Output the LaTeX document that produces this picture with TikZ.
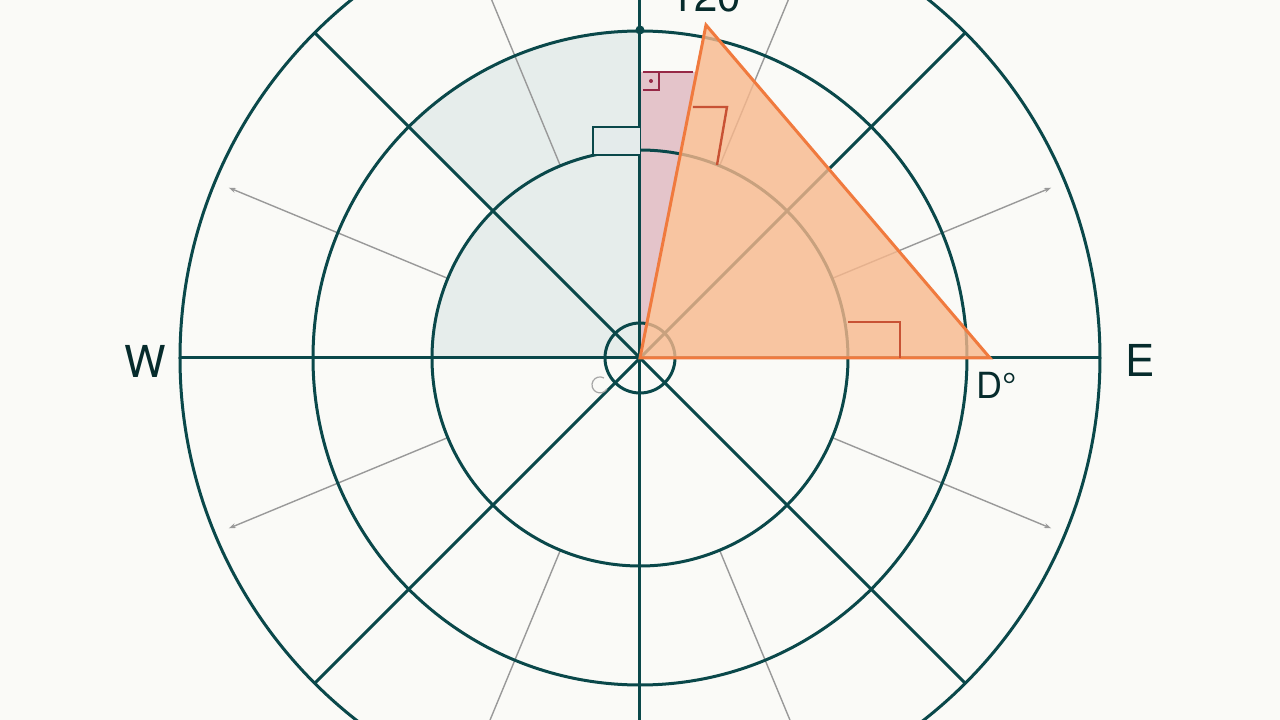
\documentclass[tikz,border=0pt]{standalone}
\usepackage{fontspec}
\setmainfont{TeX Gyre Heros}
\usetikzlibrary{arrows.meta}
\definecolor{azul}{RGB}{10,72,74}
\definecolor{fondo}{RGB}{250,250,247}
\definecolor{sombra}{RGB}{230,237,235}
\definecolor{rosa}{RGB}{228,196,202}
\definecolor{granate}{RGB}{150,40,70}
\definecolor{naranja}{RGB}{240,122,62}
\definecolor{salmon}{RGB}{248,184,140}
\definecolor{ladrillo}{RGB}{200,82,52}
\tikzset{
  rejilla/.style={azul,line width=3pt},
  radio/.style={gray!80,line width=1.4pt,-{Stealth[length=7pt,width=5pt]}},
  marca/.style={line width=2.4pt}
}
\begin{document}
\begin{tikzpicture}[x=1pt,y=1pt]
    \useasboundingbox (-640,-362) rectangle (640,358);
    \clip (-640,-362) rectangle (640,358);
    \fill[fondo] (-640,-362) rectangle (640,358);

    % Centro y triángulo
    \coordinate (O) at (0,0);
    \coordinate (A) at (66,333);
    \coordinate (B) at (350,0);

    % Sector sombreado
    \fill[sombra] (O) -- (0,327) arc[start angle=90,end angle=135,radius=327] -- cycle;
    \fill[sombra] (O) -- (0,208) arc[start angle=90,end angle=180,radius=208] -- cycle;
    \fill[rosa] (O) -- (0,286) -- (56.7,286) -- cycle;

    % Rayos grises
    \foreach \a in {22.5,67.5,...,360}
        \draw[radio] (\a:208) -- (\a:445);

    % Rejilla polar
    \foreach \r in {35,208,327,460}
        \draw[rejilla] (O) circle[radius=\r];
    \foreach \a in {0,45,...,315}
        \draw[rejilla] (O) -- (\a:460);
    \fill[azul] (0,328) circle[radius=4.5];
    \draw[gray!70,line width=1.2pt] (-36,-20) arc[start angle=60,end angle=330,radius=8];

    % Ángulos rectos
    \draw[azul,marca,fill=sombra!70!azul!30] (0,203) -- (-47,203) -- (-47,231) -- (0,231);
    \draw[granate,marca] (3,286) -- (53,286);
    \draw[granate,marca] (3,268) -- (19,268) -- (19,286);
    \fill[granate] (11,277) circle[radius=2];

    % Triángulo naranja
    \filldraw[naranja,line width=3pt,fill=salmon,fill opacity=0.8] (O) -- (A) -- (B) -- cycle;
    \draw[ladrillo,marca] (53,251) -- (87,251) -- (77,193);
    \draw[ladrillo,marca] (208,36) -- (260,36) -- (260,0);

    % Etiquetas
    \node[azul!60!black,font=\fontsize{44}{44}\selectfont] (W) at (-495,-3) {W};
    \node[azul!60!black,font=\fontsize{44}{44}\selectfont] (E) at (500,-2) {E};
    \node[azul!60!black,font=\fontsize{36}{36}\selectfont,anchor=base west] (D) at (333,-40) {D°};
    \node[azul!60!black,font=\fontsize{42}{42}\selectfont,anchor=base] (T) at (66,346) {120};
\end{tikzpicture}
\end{document}
